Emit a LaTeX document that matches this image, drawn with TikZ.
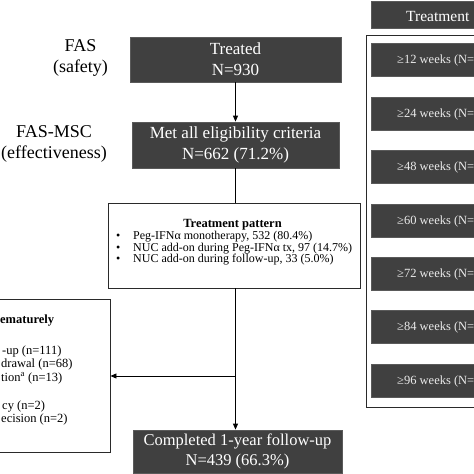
\documentclass[tikz,border=0pt]{standalone}
\usepackage{fontspec}
\setmainfont{Liberation Serif}
\usetikzlibrary{arrows.meta}
\definecolor{boxfill}{HTML}{404040}
\definecolor{boxedge}{HTML}{5A5A5A}
\definecolor{lineclr}{HTML}{2A2A2A}
\tikzset{
  darkbox/.style={fill=boxfill, draw=boxedge, line width=0.8pt, text=white, align=center, inner sep=0pt},
  whitebox/.style={fill=white, draw=lineclr, line width=0.9pt, inner sep=0pt},
  conn/.style={draw=black, line width=0.9pt},
  arr/.style={conn, -{Triangle[length=6pt,width=5pt]}},
  sidelabel/.style={align=center, font=\fontsize{18}{21.5}\selectfont, inner sep=0pt},
  boxtext/.style={font=\fontsize{17}{21}\selectfont},
  smalltext/.style={font=\fontsize{12}{11.5}\selectfont, inner sep=0pt, anchor=base west},
  weektext/.style={font=\fontsize{12.5}{14}\selectfont, text=white!92!black, inner sep=0pt, anchor=west},
}
\begin{document}
\begin{tikzpicture}[x=1pt, y=-1pt]
\useasboundingbox (0,0) rectangle (474,474);
\clip (0,0) rectangle (474,474);
\fill[white] (0,0) rectangle (474,474);

% side labels
\node[sidelabel] (fas) at (80.5,58) {FAS\\(safety)};
\node[sidelabel] (fasmsc) at (54,144) {FAS-MSC\\(effectiveness)};

% centre column
\node[darkbox, boxtext, minimum width=211pt, minimum height=45pt] (treated) at (235.5,59.5) {Treated\\N=930};
\node[darkbox, boxtext, minimum width=207pt, minimum height=46pt] (met) at (235.5,145) {Met all eligibility criteria\\N=662 (71.2\%)};
\node[whitebox, minimum width=252pt, minimum height=85pt] (pat) at (234,245.5) {};
\node[font=\bfseries\fontsize{12.5}{14}\selectfont, inner sep=0pt, anchor=base] (pattitle) at (232.5,227) {Treatment pattern};
\node[smalltext] (b1) at (116,239.5) {•};
\node[smalltext] (b2) at (116,251) {•};
\node[smalltext] (b3) at (116,262.5) {•};
\node[smalltext] (l1) at (133,239.5) {Peg-IFNα monotherapy, 532 (80.4\%)};
\node[smalltext] (l2) at (133,251) {NUC add-on during Peg-IFNα tx, 97 (14.7\%)};
\node[smalltext] (l3) at (133,262.5) {NUC add-on during follow-up, 33 (5.0\%)};
\node[darkbox, font=\fontsize{16.5}{20}\selectfont, minimum width=209pt, minimum height=43pt] (done) at (237.5,451.5) {Completed 1-year follow-up\\N=439 (66.3\%)};

% left box (cut off)
\node[whitebox, minimum width=160pt, minimum height=153pt] (disc) at (30,375.5) {};
\node[font=\bfseries\fontsize{12.5}{14}\selectfont, inner sep=0pt, anchor=base west] (dtitle) at (0,323.5) {ematurely};
\node[smalltext, font=\fontsize{12.5}{14}\selectfont] (d1) at (2,354) {-up (n=111)};
\node[smalltext, font=\fontsize{12.5}{14}\selectfont] (d2) at (1,367) {drawal (n=68)};
\node[smalltext, font=\fontsize{12.5}{14}\selectfont] (d3) at (1,381) {tion\textsuperscript{a} (n=13)};
\node[smalltext, font=\fontsize{12.5}{14}\selectfont] (d4) at (2,409.5) {cy (n=2)};
\node[smalltext, font=\fontsize{12.5}{14}\selectfont] (d5) at (1,422) {ecision (n=2)};

% connectors
\draw[arr] (treated.south) -- (met.north);
\draw[conn] (met.south) -- (met.south |- pat.north);
\coordinate (split) at (met.south |- 0,376);
\draw[arr] (met.south |- pat.south) -- (met.south |- done.north);
\draw[arr] (split) -- (disc.east |- split);

% right column
\node[darkbox, minimum width=130pt, minimum height=27pt, anchor=north west, font=\fontsize{15.5}{18}\selectfont] (thead) at (371,1) {};
\node[inner sep=0pt, anchor=base west, text=white, font=\fontsize{15.5}{18}\selectfont] (theadtxt) at (406,21) {Treatment};
\node[whitebox, fill=none, minimum width=150pt, minimum height=372pt, anchor=north west] (frame) at (366,35) {};
\foreach \i/\w/\y in {1/12/43, 2/24/97, 3/48/150, 4/60/203.5, 5/72/256.5, 6/84/309.5, 7/96/364}{
  \node[darkbox, minimum width=130pt, minimum height=33pt, anchor=north west] (wk\i) at (371,\y) {};
  \node[weektext] (wkt\i) at (397,\y+17.5) {≥\w\ weeks (N=};
}
\end{tikzpicture}
\end{document}
